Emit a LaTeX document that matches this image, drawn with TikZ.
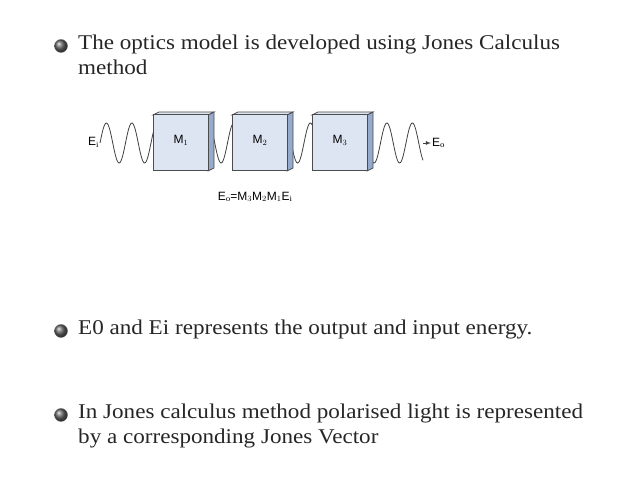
\documentclass[tikz,border=0pt]{standalone}
\usepackage{fontspec}
\setmainfont{Liberation Serif}[FakeStretch=1.1]
\setsansfont{Liberation Sans}
\begin{document}
\begin{tikzpicture}[x=1pt,y=1pt,
  txt/.style={anchor=north west,align=left,font=\fontsize{21}{25}\selectfont,inner sep=0pt,text=black!85},
  bul/.style={circle,inner sep=0pt,minimum size=13pt,shade,ball color=black!60,draw=black!60},
  front/.style={draw=black!70,fill={rgb,255:red,222;green,229;blue,242},line width=0.8pt},
  side/.style={draw=black!70,fill={rgb,255:red,150;green,170;blue,205},line width=0.8pt},
  lab/.style={font=\sffamily\fontsize{12}{12}\selectfont,inner sep=1pt}]
\useasboundingbox (0,0) rectangle (638,478);
\node[bul] (b1) at (61,432) {};
\node[txt] (t1) at (78,443) {The optics model is developed using Jones Calculus\\method};
\node[bul] (b2) at (61,147) {};
\node[txt] (t2) at (78,158) {E0 and Ei represents the output and input energy.};
\node[bul] (b3) at (61,63) {};
\node[txt] (t3) at (78,74) {In Jones calculus method polarised light is represented\\by a corresponding Jones Vector};
\draw[black!75,line width=0.8pt] plot[domain=100:423,samples=400] (\x,{335+20*sin((\x-100)/25.5*360)});
\foreach \n/\x in {1/153,2/232,3/312}{
  \draw[side] (\x+55,363) -- (\x+61,366) -- (\x+61,310) -- (\x+55,307) -- cycle;
  \draw[front] (\x+55,363) -- (\x+61,366) -- (\x+6,366) -- (\x,363) -- cycle;
  \node[front,minimum width=55pt,minimum height=56pt,anchor=south west,inner sep=0pt] (m\n) at (\x,307) {};
  \node[lab] at ([yshift=2pt]m\n.center) {M$_{\n}$};
}
\coordinate (we) at (423,335);
\coordinate (ae) at (431,335);
\draw[-latex,black!75,line width=0.8pt] (we) -- (ae);
\node[lab,anchor=west] (eo) at (ae) {E$_\mathrm{o}$};
\node[lab,anchor=east] (ei) at (100,336) {E$_\mathrm{i}$};
\node[lab] (eq) at (255,281) {E$_\mathrm{o}$=M$_3$M$_2$M$_1$E$_\mathrm{i}$};
\end{tikzpicture}
\end{document}
